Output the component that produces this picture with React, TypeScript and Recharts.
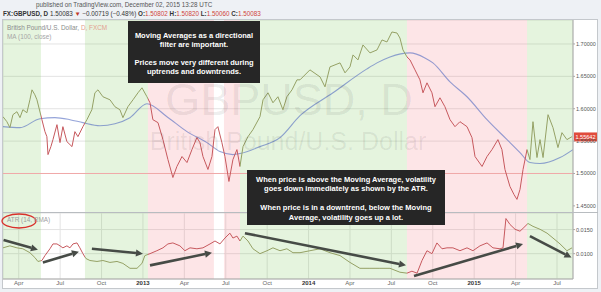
import {
  CartesianGrid,
  Line,
  LineChart,
  ReferenceArea,
  ReferenceLine,
  XAxis,
  YAxis,
} from "recharts";

// x values are months since Jan 2012 (Jan 2013 = 12)
const pricePoints: [number, number][] = [
  [1.86, 1.5877], [2.14, 1.58], [2.36, 1.5708], [2.58, 1.5908], [2.87, 1.5954],
  [3.09, 1.5862], [3.3, 1.5985], [3.59, 1.5938], [3.81, 1.6138], [3.96, 1.6292],
  [4.17, 1.6215], [4.32, 1.6138], [4.68, 1.5831], [4.9, 1.5646], [5.04, 1.5569],
  [5.12, 1.5292], [5.33, 1.5415], [5.48, 1.5523], [5.77, 1.5754], [5.99, 1.5477],
  [6.2, 1.5723], [6.49, 1.5492], [6.86, 1.5415], [7.07, 1.5646], [7.29, 1.5569],
  [7.65, 1.5723], [7.94, 1.5831], [8.3, 1.5985], [8.52, 1.6246], [8.74, 1.6292],
  [9.1, 1.6185], [9.61, 1.6138], [9.97, 1.6031], [10.33, 1.5985], [10.55, 1.5862],
  [10.91, 1.6031], [11.28, 1.6138], [11.64, 1.6246], [11.93, 1.6323], [12.29, 1.6185],
  [12.51, 1.6092], [12.72, 1.5831], [13.09, 1.5785], [13.45, 1.5523], [13.81, 1.5215],
  [14.17, 1.4938], [14.46, 1.5108], [14.83, 1.5262], [15.19, 1.5169], [15.55, 1.5369],
  [15.91, 1.5554], [16.13, 1.5477], [16.35, 1.5262], [16.71, 1.5062], [17.0, 1.5262],
  [17.22, 1.5677], [17.43, 1.5723], [17.72, 1.5477], [17.94, 1.5262], [18.23, 1.4877],
  [18.52, 1.5215], [18.81, 1.5369], [19.03, 1.5108], [19.25, 1.5415], [19.61, 1.5569],
  [19.97, 1.5677], [20.48, 1.5877], [20.7, 1.6138], [21.06, 1.6246], [21.42, 1.6092],
  [21.78, 1.6185], [22.14, 1.5985], [22.43, 1.6185], [22.8, 1.6292], [23.16, 1.6446],
  [23.38, 1.6446], [24.1, 1.66], [24.83, 1.6492], [25.19, 1.6338], [25.55, 1.6646],
  [26.28, 1.6708], [26.64, 1.6554], [27.0, 1.6646], [27.22, 1.6831], [27.58, 1.6754],
  [27.94, 1.6985], [28.45, 1.6862], [28.96, 1.6908], [29.32, 1.7062], [29.68, 1.7031],
  [30.04, 1.7185], [30.41, 1.7169], [30.62, 1.7092], [30.84, 1.6908], [31.13, 1.68],
  [31.35, 1.6754], [31.71, 1.66], [32.07, 1.6446], [32.29, 1.6246], [32.58, 1.64],
  [32.94, 1.6246], [33.16, 1.6031], [33.52, 1.6169], [33.88, 1.6031], [34.25, 1.5831],
  [34.61, 1.5723], [34.97, 1.58], [35.48, 1.5723], [35.84, 1.5554], [36.06, 1.5262],
  [36.57, 1.5108], [36.93, 1.5262], [37.29, 1.5369], [37.72, 1.5523], [38.01, 1.5369],
  [38.23, 1.5062], [38.59, 1.48], [38.88, 1.4677], [39.1, 1.46], [39.32, 1.4754],
  [39.54, 1.5062], [39.83, 1.5369], [40.04, 1.5215], [40.26, 1.58], [40.55, 1.5246],
  [40.77, 1.5523], [40.99, 1.5246], [41.35, 1.5908], [41.71, 1.5708], [42.07, 1.54],
  [42.36, 1.5631], [42.72, 1.5523], [43.09, 1.5569],
];

const maPoints: [number, number][] = [
  [1.86, 1.5723], [3.09, 1.5708], [4.54, 1.5846], [5.62, 1.5862], [6.71, 1.5831],
  [7.65, 1.5785], [8.88, 1.5738], [9.97, 1.5769], [11.06, 1.5862], [12.29, 1.6077],
  [13.74, 1.5877], [15.19, 1.5646], [16.64, 1.5477], [17.58, 1.5338], [18.52, 1.5292],
  [19.03, 1.5308], [20.48, 1.5415], [21.93, 1.5554], [23.38, 1.5892], [25.77, 1.6246],
  [28.23, 1.6615], [28.96, 1.6708], [29.9, 1.68], [31.35, 1.6862], [32.43, 1.6785],
  [33.01, 1.6708], [34.25, 1.6415], [35.48, 1.6185], [36.93, 1.5831], [38.38, 1.5523],
  [39.32, 1.5323], [40.04, 1.5169], [40.77, 1.5154], [42.22, 1.5246], [43.16, 1.5369],
];

const atrPoints: [number, number][] = [
  [1.86, 0.01121], [2.36, 0.01162], [2.87, 0.01121], [3.3, 0.01101], [3.81, 0.0102],
  [4.17, 0.00919], [4.39, 0.00838], [4.68, 0.00858], [4.9, 0.0096], [5.26, 0.01101],
  [5.48, 0.01202], [5.77, 0.01202], [5.99, 0.01162], [6.2, 0.01121], [6.49, 0.01162],
  [6.71, 0.01121], [6.93, 0.01202], [7.22, 0.01223], [7.43, 0.01121], [7.65, 0.01],
  [7.87, 0.00899], [8.16, 0.00858], [8.67, 0.00838], [9.1, 0.00858], [9.61, 0.00818],
  [10.12, 0.00838], [10.55, 0.00798], [11.06, 0.00696], [11.57, 0.00696], [11.93, 0.00798],
  [12.14, 0.0096], [12.51, 0.01], [13.01, 0.01061], [13.45, 0.01121], [13.81, 0.01202],
  [14.17, 0.01223], [14.68, 0.01162], [15.04, 0.01061], [15.41, 0.01121], [15.91, 0.01101],
  [16.35, 0.01121], [16.86, 0.01202], [17.22, 0.01263], [17.58, 0.01202], [17.94, 0.01324],
  [18.3, 0.01425], [18.52, 0.01324], [18.81, 0.01364], [19.03, 0.01263], [19.25, 0.01364],
  [19.61, 0.01263], [19.97, 0.01101], [20.48, 0.01], [20.99, 0.01061], [21.42, 0.01121],
  [21.93, 0.01061], [22.43, 0.01101], [22.87, 0.0102], [23.38, 0.0102], [24.1, 0.01061],
  [24.83, 0.01101], [25.55, 0.0102], [26.28, 0.0096], [27.0, 0.00818], [27.72, 0.00696],
  [28.45, 0.00696], [29.17, 0.00696], [29.9, 0.00696], [30.62, 0.00615], [31.13, 0.00595],
  [31.49, 0.00636], [31.86, 0.00595], [32.22, 0.00858], [32.58, 0.01061], [32.94, 0.01],
  [33.3, 0.01223], [33.67, 0.01101], [34.03, 0.01121], [34.46, 0.01121], [34.97, 0.01061],
  [35.48, 0.01121], [35.91, 0.01061], [36.42, 0.01162], [36.93, 0.01223], [37.36, 0.01121],
  [37.87, 0.01101], [38.09, 0.01121], [38.3, 0.01729], [38.59, 0.01607], [38.96, 0.01506],
  [39.32, 0.01466], [39.54, 0.01526], [39.9, 0.01627], [40.26, 0.01567], [40.77, 0.01506],
  [41.28, 0.01425], [41.71, 0.01324], [42.22, 0.01202], [42.72, 0.01061], [43.09, 0.01121],
];

// trend zones painted on the chart
const zoneStart = [1.86, 4.61, 7.8, 12.36, 17.14, 17.87, 19.03, 31.13, 39.83];
const zoneEnd = [4.61, 7.8, 12.36, 17.14, 17.87, 19.03, 31.13, 39.83, 43.16];
const zoneTrend = ["up", "flat", "up", "down", "flat", "down", "up", "down", "up"];

// hand-drawn arrows on the ATR pane: [fromMonth, fromAtr, toMonth, toAtr]
const atrArrows: [number, number, number, number][] = [
  [1.9, 0.01283, 4.39, 0.01081],
  [4.75, 0.00818, 7.36, 0.0104],
  [8.3, 0.01101, 12.0, 0.01],
  [12.51, 0.00757, 17.0, 0.0102],
  [19.39, 0.01425, 31.06, 0.00757],
  [31.64, 0.00534, 39.54, 0.01202],
  [40.04, 0.01364, 43.05, 0.00919],
];

const timeTicks = [3, 6, 9, 12, 15, 18, 21, 24, 27, 30, 33, 36, 39, 42];
const priceTicks = [1.45, 1.5, 1.55, 1.6, 1.65, 1.7];
const atrTicks = [0.01, 0.015];
const lastPrice = 1.55642;
const monthNames = ["Jan", "Feb", "Mar", "Apr", "May", "Jun", "Jul", "Aug", "Sep", "Oct", "Nov", "Dec"];

const X_DOMAIN: [number, number] = [1.86, 43.16];
const GREEN = "#94a064";
const RED = "#c6585d";
const FONT = "'Liberation Sans', Arial, sans-serif";

const priceData = pricePoints.map(([m, v]) => ({ m, v }));
const maData = maPoints.map(([m, v]) => ({ m, v }));
const atrData = atrPoints.map(([m, v]) => ({ m, v }));

function trendStops(points: [number, number][]) {
  const first = points[0][0];
  const last = points[points.length - 1][0];
  const stops: { off: number; color: string }[] = [];
  zoneStart.forEach((s, i) => {
    const c = zoneTrend[i] === "up" ? GREEN : RED;
    stops.push({ off: Math.max(0, (s - first) / (last - first)), color: c });
    stops.push({ off: Math.min(1, (zoneEnd[i] - first) / (last - first)), color: c });
  });
  return stops;
}

function zones() {
  return zoneStart.map((s, i) =>
    zoneTrend[i] === "flat" ? null : (
      <ReferenceArea
        key={i}
        x1={s}
        x2={zoneEnd[i]}
        fill={zoneTrend[i] === "up" ? "#7cc85a" : "#f47c86"}
        fillOpacity={0.2}
        strokeOpacity={0}
        ifOverflow="visible"
      />
    )
  );
}

const Arrow = (p: any) => {
  const { x1, y1, x2, y2 } = p;
  const ang = Math.atan2(y2 - y1, x2 - x1);
  const hl = 7;
  const hw = 3.6;
  const bx = x2 - hl * Math.cos(ang);
  const by = y2 - hl * Math.sin(ang);
  const px = -Math.sin(ang) * hw;
  const py = Math.cos(ang) * hw;
  return (
    <g>
      <line x1={x1} y1={y1} x2={bx} y2={by} stroke="#464b46" strokeWidth={2.6} />
      <polygon
        points={`${x2},${y2} ${bx + px},${by + py} ${bx - px},${by - py}`}
        fill="#464b46"
      />
    </g>
  );
};

// red last-price marker on the price scale
const PriceTag = (p: any) => {
  const right = Math.max(p.x1, p.x2);
  const y = p.y1;
  return (
    <g>
      <rect x={right + 1} y={y - 4.5} width={23} height={9} fill="#e04b3c" />
      <text x={right + 12.5} y={y + 2} textAnchor="middle" fontSize={5.6} fill="#fff" fontFamily={FONT}>
        {lastPrice.toFixed(5)}
      </text>
    </g>
  );
};

const TimeTick = (p: any) => {
  const { x, y, payload } = p;
  const m = payload.value as number;
  const isYear = m % 12 === 0;
  return (
    <text
      x={x}
      y={y + 6}
      textAnchor="middle"
      fontSize={6}
      fontFamily={FONT}
      fill={isYear ? "#333" : "#666"}
      fontWeight={isYear ? 700 : 400}
    >
      {isYear ? String(2012 + m / 12) : monthNames[m % 12]}
    </text>
  );
};

const yTick = { fontSize: 5.5, fill: "#555", fontFamily: FONT };

export default function App() {
  const priceStops = trendStops(pricePoints);
  const atrStops = trendStops(atrPoints);
  const box: React.CSSProperties = {
    position: "absolute",
    background: "#262626",
    color: "#fff",
    fontWeight: 700,
    fontSize: 7.5,
    textAlign: "center",
    fontFamily: FONT,
    boxSizing: "border-box",
  };
  return (
    <div
      style={{
        position: "absolute",
        left: 0,
        top: 0,
        width: 601,
        height: 292,
        background: "#eef1f5",
        fontFamily: FONT,
        overflow: "hidden",
      }}
    >
      <div style={{ position: "absolute", left: 36, top: 1, fontSize: 6.3, color: "#555", whiteSpace: "nowrap" }}>
        published on TradingView.com, December 02, 2015 13:28 UTC
      </div>
      <div style={{ position: "absolute", left: 3, top: 10, fontSize: 6.3, color: "#333", whiteSpace: "nowrap" }}>
        <b>FX:GBPUSD, D</b> 1.50083 <span style={{ color: "#c0392b" }}>▼</span> −0.00719 (−0.48%){" "}
        <b>O:</b><span style={{ color: "#d0453a" }}>1.50802</span> <b>H:</b>
        <span style={{ color: "#d0453a" }}>1.50820</span> <b>L:</b>
        <span style={{ color: "#d0453a" }}>1.50060</span> <b>C:</b>
        <span style={{ color: "#d0453a" }}>1.50083</span>
      </div>

      <div
        style={{
          position: "absolute",
          left: 2,
          top: 19,
          width: 596,
          height: 270,
          background: "#fff",
          border: "1px solid #c4c8cc",
          boxSizing: "border-box",
        }}
      />

      <div style={{ position: "absolute", left: 3, top: 20 }}>
        <LineChart width={595} height={193} margin={{ top: 0, right: 0, bottom: 0, left: 0 }}>
          <defs>
            <linearGradient id="priceTrend" x1="0" y1="0" x2="1" y2="0">
              {priceStops.map((s, i) => (
                <stop key={i} offset={s.off} stopColor={s.color} />
              ))}
            </linearGradient>
          </defs>
          {zones()}
          <CartesianGrid stroke="#e3e3e3" />
          <XAxis
            type="number"
            dataKey="m"
            domain={X_DOMAIN}
            ticks={timeTicks}
            height={0}
            tick={false}
            axisLine={false}
            tickLine={false}
            allowDataOverflow
          />
          <YAxis
            orientation="right"
            width={25}
            domain={[1.439, 1.737]}
            ticks={priceTicks}
            tickFormatter={(v: number) => v.toFixed(5)}
            tick={yTick}
            tickSize={2}
            tickMargin={1}
            stroke="#aaa"
            allowDataOverflow
          />
          <ReferenceLine y={1.5} stroke="#f0a8a8" strokeWidth={1} />
          <Line
            data={maData}
            dataKey="v"
            type="monotone"
            stroke="#4f68c0"
            strokeOpacity={0.6}
            strokeWidth={1.1}
            dot={false}
            isAnimationActive={false}
          />
          <Line
            data={priceData}
            dataKey="v"
            type="linear"
            stroke="url(#priceTrend)"
            strokeWidth={1}
            dot={false}
            isAnimationActive={false}
          />
          <ReferenceLine y={lastPrice} ifOverflow="visible" shape={PriceTag} />
        </LineChart>
      </div>

      <div style={{ position: "absolute", left: 3, top: 212, width: 595, height: 1, background: "#b8bcc0" }} />

      <div style={{ position: "absolute", left: 3, top: 213 }}>
        <LineChart width={595} height={76} margin={{ top: 0, right: 0, bottom: 0, left: 0 }}>
          <defs>
            <linearGradient id="atrTrend" x1="0" y1="0" x2="1" y2="0">
              {atrStops.map((s, i) => (
                <stop key={i} offset={s.off} stopColor={s.color} />
              ))}
            </linearGradient>
          </defs>
          {zones()}
          <CartesianGrid stroke="#e3e3e3" />
          <XAxis
            type="number"
            dataKey="m"
            domain={X_DOMAIN}
            ticks={timeTicks}
            height={10}
            tick={TimeTick}
            tickLine={false}
            tickSize={0}
            tickMargin={0}
            stroke="#aaa"
            allowDataOverflow
          />
          <YAxis
            orientation="right"
            width={25}
            domain={[0.00474, 0.01844]}
            ticks={atrTicks}
            tickFormatter={(v: number) => v.toFixed(4)}
            tick={yTick}
            tickSize={2}
            tickMargin={1}
            stroke="#aaa"
            allowDataOverflow
          />
          <Line
            data={atrData}
            dataKey="v"
            type="linear"
            stroke="url(#atrTrend)"
            strokeWidth={1}
            dot={false}
            isAnimationActive={false}
          />
          {atrArrows.map(([xa, ya, xb, yb], i) => (
            <ReferenceLine
              key={i}
              segment={[{ x: xa, y: ya }, { x: xb, y: yb }]}
              ifOverflow="visible"
              shape={Arrow}
            />
          ))}
        </LineChart>
      </div>

      <svg width={601} height={292} style={{ position: "absolute", left: 0, top: 0, pointerEvents: "none" }}>
        <text x={289} y={115} textAnchor="middle" fontSize={45} fill="#000" fillOpacity={0.08} fontFamily={FONT}>
          GBPUSD, D
        </text>
        <text x={288} y={150} textAnchor="middle" fontSize={25} fill="#000" fillOpacity={0.07} fontFamily={FONT}>
          British Pound/U.S. Dollar
        </text>
        <ellipse cx={19} cy={221} rx={17} ry={7} fill="none" stroke="#d9302b" strokeWidth={1.3} />
      </svg>

      <div style={{ position: "absolute", left: 7, top: 24, fontSize: 6.4, color: "#8c8c8c", whiteSpace: "nowrap" }}>
        British Pound/U.S. Dollar, <span style={{ color: "#e3a090" }}>D, FXCM</span>
      </div>
      <div style={{ position: "absolute", left: 7, top: 33, fontSize: 6.4, color: "#a5a5a5", whiteSpace: "nowrap" }}>
        MA (100, close)
      </div>
      <div style={{ position: "absolute", left: 7, top: 216, fontSize: 6.4, color: "#a0a0a0", whiteSpace: "nowrap" }}>
        ATR (14, RMA)
      </div>

      <div style={{ ...box, left: 128, top: 21, width: 132, height: 62, paddingTop: 10, lineHeight: "9px" }}>
        <div>Moving Averages as a directional</div>
        <div>filter are important.</div>
        <div>&nbsp;</div>
        <div>Prices move very different during</div>
        <div>uptrends and downtrends.</div>
      </div>
      <div style={{ ...box, left: 247, top: 170, width: 198, height: 55, paddingTop: 4.5, lineHeight: "9.5px" }}>
        <div>When price is above the Moving Average, volatility</div>
        <div>goes down immediately as shown by the ATR.</div>
        <div>&nbsp;</div>
        <div>When price is in a downtrend, below the Moving</div>
        <div>Average, volatility goes up a lot.</div>
      </div>
    </div>
  );
}
